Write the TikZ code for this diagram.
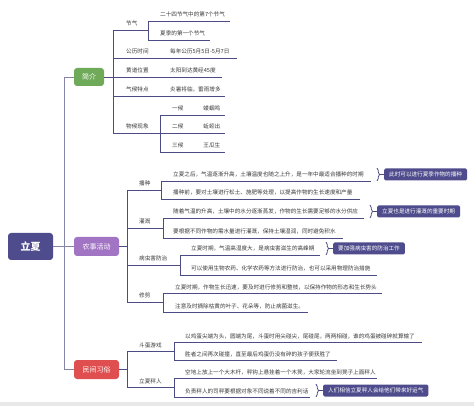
\documentclass[tikz,border=0pt]{standalone}
\usepackage{fontspec}
\setmainfont{Noto Sans CJK SC}
\usetikzlibrary{calc,decorations.pathreplacing}
\definecolor{lnc}{HTML}{4B4B85}
\definecolor{mainc}{HTML}{8585AA}
\definecolor{txtc}{HTML}{3A3A3A}
\definecolor{rootc}{HTML}{4E4C8C}
\definecolor{bubc}{HTML}{4E4C8C}
\definecolor{greenc}{HTML}{6EAA58}
\definecolor{purplec}{HTML}{A274C4}
\definecolor{redc}{HTML}{E04F4F}
\tikzset{
  txt/.style={font=\fontsize{5.6}{6}\selectfont, text=txtc, inner sep=0pt, anchor=base west},
  ln/.style={draw=lnc, line width=0.8pt},
  mainln/.style={draw=mainc, line width=0.9pt},
  lvone/.style={rounded corners=3pt, text=white, font=\fontsize{7}{8}\selectfont, inner sep=0pt, minimum height=19pt, minimum width=45pt},
  rootbox/.style={rounded corners=3pt, fill=rootc, text=white, font=\fontsize{10}{11}\selectfont\bfseries, inner sep=0pt, minimum height=27pt, minimum width=45pt},
  bubble/.style={fill=bubc, rounded corners=1.5pt, text=white, font=\fontsize{5.6}{6}\selectfont, inner xsep=5pt, inner ysep=0pt, minimum height=12pt, anchor=west},
  brc/.style={draw=lnc, line width=0.7pt, decorate, decoration={brace, amplitude=2.5pt}},
}
\newcommand{\mmt}[6]{%
  \coordinate (#1s) at (#2,#4);
  \coordinate (#1e) at (#3,#4);
  \node[txt] (#1) at (#5,#4-4) {#6};
  \draw[ln] (#1s) -- (#1e);
}
\newcommand{\mmcall}[2]{%
  \draw[brc] ($(#1e)+(6,-13)$) -- ($(#1e)+(6,0)$);
  \node[bubble] (#1c) at ($(#1e)+(13,-6.5)$) {#2};
  \draw[ln] ($(#1e)+(9,-6.5)$) -- (#1c.west);
}
\begin{document}
\begin{tikzpicture}[x=1pt, y=-1pt]
\useasboundingbox (0,0) rectangle (474,406);
\fill[white] (0,0) rectangle (474,406);
\fill[black!9] (0,402) rectangle (474,406);

% root and level one
\node[rootbox] (root) at (30.5,246.5) {立夏};
\node[lvone, fill=greenc, minimum width=30pt, minimum height=18pt] (jj) at (89,77) {简介};
\node[lvone, fill=purplec] (ns) at (96.5,246.5) {农事活动};
\node[lvone, fill=redc] (mj) at (96.5,369.5) {民间习俗};

\coordinate (spinetop) at (64,77);
\coordinate (spinebot) at (64,369.5);
\draw[mainln] (root.east) -- (root.east -| spinetop);
\draw[mainln] (spinetop) -- (spinebot);
\draw[mainln] (spinetop) -- (jj.west);
\draw[mainln] (ns.west -| spinetop) -- (ns.west);
\draw[mainln] (spinebot) -- (mj.west);

% 简介
\mmt{jq}{113}{148}{30}{126}{节气}
\mmt{jqa}{148}{230}{21}{160}{二十四节气中的第7个节气}
\mmt{jqb}{148}{210}{40}{160}{夏季的第一个节气}
\mmt{gl}{113}{162}{58}{126}{公历时间}
\mmt{gla}{162}{237}{58}{170}{每年公历5月5日-5月7日}
\mmt{hd}{113}{162}{77}{126}{黄道位置}
\mmt{hda}{162}{222}{77}{170}{太阳到达黄经45度}
\mmt{qh}{113}{162}{96}{126}{气候特点}
\mmt{qha}{162}{225}{96}{170}{炎暑将临，雷雨增多}
\mmt{wh}{113}{160}{133}{126}{物候现象}
\mmt{wha}{160}{225}{115}{172}{一候\hspace{20pt}蝼蝈鸣}
\mmt{whb}{160}{225}{133}{172}{二候\hspace{20pt}蚯蚓出}
\mmt{whc}{160}{225}{152}{172}{三候\hspace{20pt}王瓜生}
\draw[ln] (jj.east) -- (jj.east -| jqs);
\draw[ln] (jqs) -- (whs);
\draw[ln] (jqas) -- (jqbs);
\draw[ln] (whas) -- (whcs);

% 农事活动
\mmt{bz}{127}{161}{190}{139}{播种}
\mmt{bza}{161}{371}{181}{173}{立夏之后，气温逐渐升高，土壤温度也随之上升，是一年中最适合播种的时期}
\mmt{bzb}{161}{360}{199}{173}{播种前，要对土壤进行松土、施肥等处理，以提高作物的生长速度和产量}
\mmt{gg}{127}{163}{228}{139}{灌溉}
\mmt{gga}{163}{364}{218}{173}{随着气温的升高，土壤中的水分逐渐蒸发，作物的生长需要足够的水分供应}
\mmt{ggb}{163}{343}{238}{173}{要根据不同作物的需水量进行灌溉，保持土壤湿润，同时避免积水}
\mmt{bc}{127}{180}{265}{139}{病虫害防治}
\mmt{bca}{180}{320}{255}{191}{立夏时期，气温高湿度大，是病虫害滋生的高峰期}
\mmt{bcb}{180}{377}{275}{191}{可以使用生物农药、化学农药等方法进行防治，也可以采用物理防治措施}
\mmt{xj}{127}{163}{302}{139}{修剪}
\mmt{xja}{163}{382}{293}{175}{立夏时期，作物生长迅速，要及时进行修剪和整枝，以保持作物的形态和生长势头}
\mmt{xjb}{163}{308}{312}{175}{注意及时摘除枯黄的叶子、花朵等，防止病菌滋生。}
\draw[ln] (ns.east) -- (ns.east -| bzs);
\draw[ln] (bzs) -- (xjs);
\draw[ln] (bzas) -- (bzbs);
\draw[ln] (ggas) -- (ggbs);
\draw[ln] (bcas) -- (bcbs);
\draw[ln] (xjas) -- (xjbs);

% 民间习俗
\mmt{dd}{127}{174}{351}{139}{斗蛋游戏}
\mmt{dda}{174}{422}{342}{185}{以鸡蛋尖端为头，圆端为尾，斗蛋时用尖碰尖，尾碰尾，两两相碰，谁的鸡蛋被碰碎就算输了}
\mmt{ddb}{174}{337}{360}{185}{胜者之间再次碰撞，直至最后鸡蛋仍没有碎的孩子便获胜了}
\mmt{cr}{127}{174}{387}{139}{立夏秤人}
\mmt{cra}{174}{377}{378}{185}{空地上放上一个大木杆，秤钩上悬挂着一个木凳，大家轮流坐到凳子上面秤人}
\mmt{crb}{174}{310}{397}{185}{负责秤人的司秤要根据对象不同说着不同的吉利话}
\draw[ln] (mj.east) -- (mj.east -| dds);
\draw[ln] (dds) -- (crs);
\draw[ln] (ddas) -- (ddbs);
\draw[ln] (cras) -- (crbs);

% callouts
\mmcall{bza}{此时可以进行夏季作物的播种}
\mmcall{gga}{立夏也是进行灌溉的重要时期}
\mmcall{bca}{要加强病虫害的防治工作}
\mmcall{crb}{人们相信立夏秤人会给他们带来好运气}
\end{tikzpicture}
\end{document}
